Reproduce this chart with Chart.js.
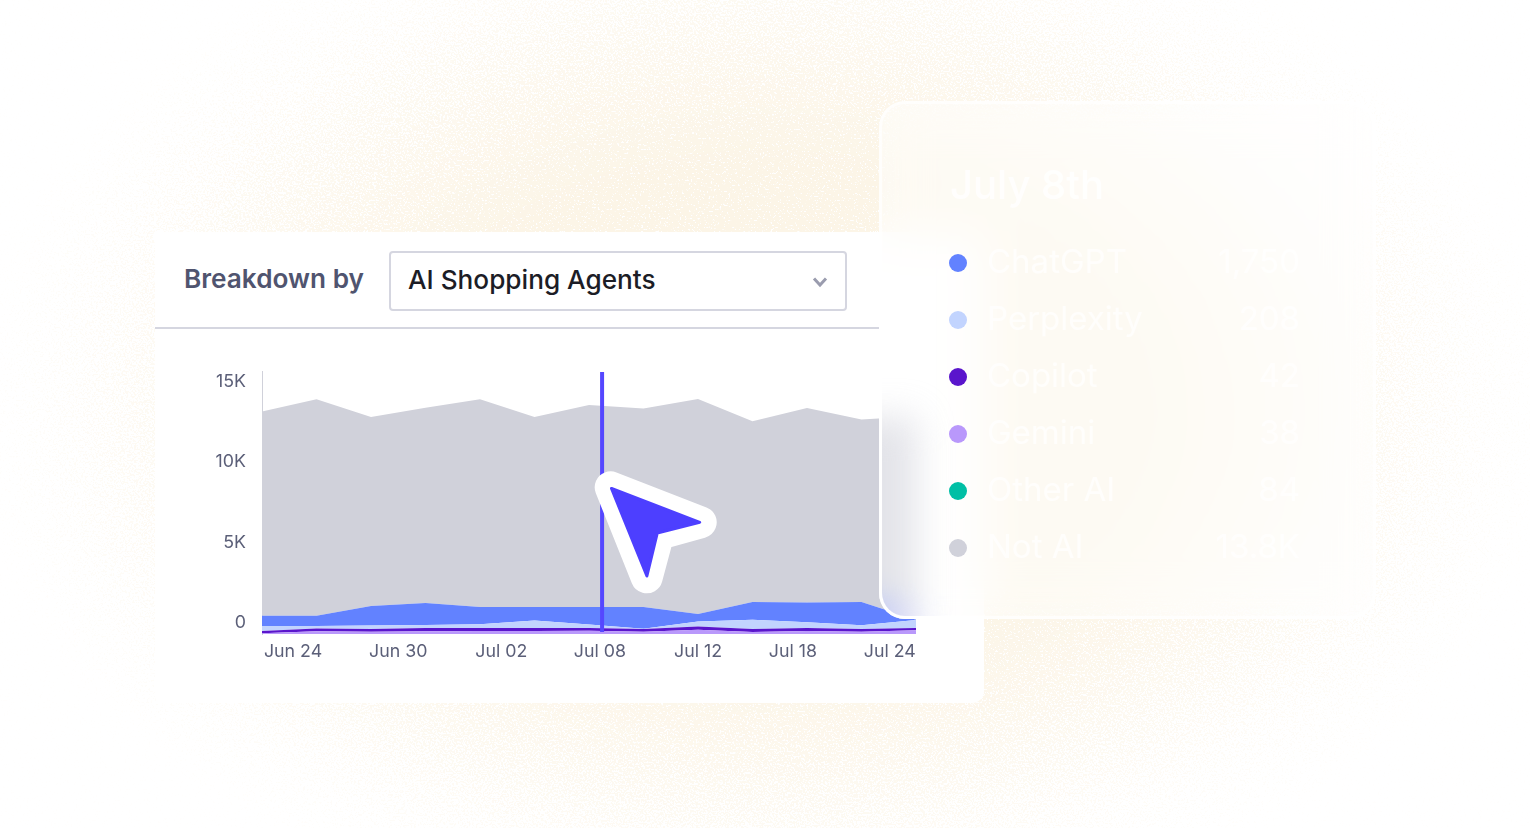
<!DOCTYPE html>
<html>
<head>
<meta charset="utf-8">
<title>Breakdown by AI Shopping Agents</title>
<script src="https://cdn.jsdelivr.net/npm/chart.js@4/dist/chart.umd.js"></script>
<style>
  html, body { margin: 0; padding: 0; background: #fff; }
  body { width: 1530px; height: 828px; overflow: hidden; position: relative; font-family: Inter, sans-serif; }
  #speckle {
    position: absolute; left: 0; top: 0; width: 1530px; height: 828px;
    background: radial-gradient(ellipse 800px 540px at 765px 410px, #000 0%, #000 50%, rgba(0,0,0,.62) 75%, rgba(0,0,0,.2) 100%);
    filter: url(#dissolve);
    -webkit-mask-image: radial-gradient(ellipse 800px 540px at 765px 410px, #000 45%, rgba(0,0,0,.5) 78%, rgba(0,0,0,.08) 100%);
    mask-image: radial-gradient(ellipse 800px 540px at 765px 410px, #000 45%, rgba(0,0,0,.5) 78%, rgba(0,0,0,.08) 100%);
  }
  #card { position: absolute; left: 155px; top: 232px; width: 829px; height: 471px; background: #fff; border-radius: 0 0 12px 12px; }
  #title { position: absolute; left: 184px; top: 263px; font-size: 26.2px; font-weight: 600; color: #50546f; line-height: 32px; }
  #select { position: absolute; left: 389px; top: 251px; width: 454px; height: 56px; border: 2px solid #d5d6e0; border-radius: 4px; background: #fff; }
  #select span { position: absolute; left: 17px; top: 11px; font-size: 26.2px; font-weight: 500; color: #1c1d26; line-height: 32px; }
  #select svg { position: absolute; left: 421px; top: 23px; }
  #rule { position: absolute; left: 155px; top: 327px; width: 724px; height: 2px; background: #d5d6e0; }
  /* the part of the chart under the glass panel is cut out here and shown blurred inside the panel */
  #wrap { position: absolute; left: 190px; top: 360px; width: 740px; height: 310px; clip-path: path('M0 0H689V233A26 26 0 0 0 715 259H740V310H0Z'); }
  #pointer { position: absolute; left: 0; top: 0; }
  #panel {
    position: absolute; left: 879px; top: 101px; width: 497px; height: 518px; box-sizing: border-box;
    border: 3px solid rgba(255,255,255,.7); border-radius: 26px; overflow: hidden;
    background: rgba(255,255,255,.45);
    -webkit-backdrop-filter: blur(24px); backdrop-filter: blur(24px);
  }
  #ghost { position: absolute; left: -692px; top: 256px; filter: blur(18px); opacity: .6; }
  #panel h2 { position: absolute; left: 68px; top: 56px; margin: 0; font-size: 40px; font-weight: 500; color: rgba(255,255,255,.8); line-height: 50px; }
  .row { position: absolute; left: 0; width: 100%; height: 40px; }
  .row i { position: absolute; left: 67px; top: 11px; width: 18px; height: 18px; border-radius: 50%; }
  .row b, .row em { position: absolute; top: 0; font-style: normal; font-weight: 400; font-size: 33px; line-height: 36px; color: rgba(255,255,255,.7); }
  .row b { left: 105px; }
  .row em { right: 73px; }
</style>
</head>
<body>
<svg width="0" height="0" style="position:absolute">
  <filter id="dissolve" x="0" y="0" width="100%" height="100%" color-interpolation-filters="sRGB">
    <feTurbulence type="fractalNoise" baseFrequency="0.55" numOctaves="2" seed="7" result="noise"/>
    <feColorMatrix in="noise" type="matrix" values="0 0 0 0 0  0 0 0 0 0  0 0 0 0 0  1 0 0 0 0" result="grain"/>
    <feComposite in="SourceAlpha" in2="grain" operator="arithmetic" k1="0" k2="0.42" k3="1" k4="-0.72" result="mix"/>
    <feComponentTransfer in="mix" result="hard"><feFuncA type="linear" slope="14" intercept="0"/></feComponentTransfer>
    <feFlood flood-color="#fcf5e7"/>
    <feComposite in2="hard" operator="in"/>
  </filter>
</svg>
<div id="speckle"></div>
<div id="card"></div>
<div id="title">Breakdown by</div>
<div id="select"><span>AI Shopping Agents</span>
  <svg width="16" height="12" viewBox="0 0 16 12"><path d="M2 2.5 L8 9 L14 2.5" fill="none" stroke="#9a9cae" stroke-width="3"/></svg>
</div>
<div id="rule"></div>
<div id="wrap"><canvas id="chart" width="740" height="310"></canvas></div>
<svg id="pointer" width="1530" height="828">
  <path d="M610.7 487.3 L700.7 522.3 L658.3 534 L646.7 577.3 Z" fill="#fff" stroke="#fff" stroke-width="32" stroke-linejoin="round"/>
  <path d="M611.5 488.5 L699.7 522.3 L657.3 533 L646.9 576 Z" fill="#4d3fff" stroke="#4d3fff" stroke-width="3" stroke-linejoin="round"/>
</svg>
<div id="panel"><canvas id="ghost" width="740" height="310"></canvas><h2 id="panelDate"></h2></div>

<script>
// x runs over the daily points, 0 to 12
var days = [0, 1, 2, 3, 4, 5, 6, 7, 8, 9, 10, 11, 12];

// stacked bottom to top
var gemini = [53, 177, 146, 177, 190, 190, 196, 146, 270, 128, 190, 134, 240];
var copilot = [133, 164, 164, 195, 183, 183, 177, 164, 195, 183, 183, 177, 133];
var perplexity = [311, 155, 217, 186, 230, 466, 211, 19, 311, 571, 354, 230, 497];
var chatgpt = [640, 640, 1211, 1366, 1075, 839, 1093, 1348, 466, 1106, 1230, 1447, 20];
var notAi = [12671, 13441, 11739, 12130, 12901, 11801, 12547, 12317, 13354, 11224, 12081, 11323, 12627];

// labels are spread edge to edge in the original, not on their own days
var xTickAt = [0.57, 2.5, 4.39, 6.2, 8, 9.74, 11.52];
var xTickLabels = ["Jun 24", "Jun 30", "Jul 02", "Jul 08", "Jul 12", "Jul 18", "Jul 24"];
var yTickAt = [0, 5000, 10000, 15000];
var yTickLabels = ["0", "5K", "10K", "15K"];
var yMax = 16330;
var hoverDay = 6.24;

// tooltip panel
var panelDate = "July 8th";
var panelNames = ["ChatGPT", "Perplexity", "Copilot", "Gemini", "Other AI", "Not AI"];
var panelValues = ["1,750", "208", "42", "38", "84", "13.8K"];

var colors = {
	ChatGPT: "#6282ff",
	Perplexity: "#c2d4fe",
	Copilot: "#5a15cc",
	Gemini: "#b998fb",
	"Other AI": "#00bfa5",
	"Not AI": "#d0d1da"
};

function series(name, values, fill) {
	return {
		label: name,
		data: values.map(function(v, i) { return {x: days[i], y: v}; }),
		backgroundColor: colors[name],
		borderWidth: 0,
		pointRadius: 0,
		tension: 0,
		fill: fill
	};
}

// vertical hover line
var cursorLine = {
	id: "cursorLine",
	afterDatasetsDraw: function(chart) {
		var x = chart.scales.x.getPixelForValue(hoverDay);
		var ctx = chart.ctx;
		ctx.save();
		ctx.strokeStyle = "#5547ff";
		ctx.lineWidth = 4;
		ctx.beginPath();
		ctx.moveTo(x, chart.chartArea.top + 1);
		ctx.lineTo(x, chart.chartArea.bottom - 2);
		ctx.stroke();
		ctx.restore();
	}
};

// the axes must not ask for room beyond their fixed size
function noScalePadding(scale) {
	scale.paddingLeft = scale.paddingRight = scale.paddingTop = scale.paddingBottom = 0;
}

var chart = new Chart(document.getElementById("chart").getContext("2d"), {
	type: "line",
	data: {
		datasets: [
			series("Gemini", gemini, "origin"),
			series("Copilot", copilot, "-1"),
			series("Perplexity", perplexity, "-1"),
			series("ChatGPT", chatgpt, "-1"),
			series("Not AI", notAi, "-1")
		]
	},
	plugins: [cursorLine],
	options: {
		responsive: false,
		animation: false,
		layout: { padding: { top: 11, right: 14, left: 0, bottom: 0 } },
		plugins: { legend: { display: false }, tooltip: { enabled: false } },
		scales: {
			x: {
				type: "linear",
				min: 0,
				max: 12,
				grid: { display: false, drawTicks: false },
				border: { display: false },
				afterBuildTicks: function(scale) {
					scale.ticks = xTickAt.map(function(v) { return {value: v}; });
				},
				afterFit: function(scale) { scale.height = 36; noScalePadding(scale); },
				ticks: {
					autoSkip: false,
					maxRotation: 0,
					padding: 7,
					color: "#5b5f78",
					font: { family: "Inter", size: 17.8 },
					callback: function(v, i) { return xTickLabels[i]; }
				}
			},
			y: {
				stacked: true,
				min: 0,
				max: yMax,
				grid: { display: false, drawTicks: false },
				border: { display: true, color: "#d0d1da", width: 1 },
				afterBuildTicks: function(scale) {
					scale.ticks = yTickAt.map(function(v) { return {value: v}; });
				},
				afterFit: function(scale) { scale.width = 72; noScalePadding(scale); },
				ticks: {
					autoSkip: false,
					padding: 16,
					labelOffset: -11,
					color: "#5b5f78",
					font: { family: "Inter", size: 17.8 },
					callback: function(v, i) { return yTickLabels[i]; }
				}
			}
		}
	}
});

// blurred copy of the chart behind the glass
document.getElementById("ghost").getContext("2d").drawImage(chart.canvas, 0, 0);

// tooltip rows
var panel = document.getElementById("panel");
document.getElementById("panelDate").textContent = panelDate;
panelNames.forEach(function(name, i) {
	var row = document.createElement("div");
	row.className = "row";
	row.style.top = (139 + i * 57) + "px";
	row.innerHTML = '<i style="background:' + colors[name] + '"></i><b>' + name + '</b><em>' + panelValues[i] + '</em>';
	panel.appendChild(row);
});
</script>
</body>
</html>
